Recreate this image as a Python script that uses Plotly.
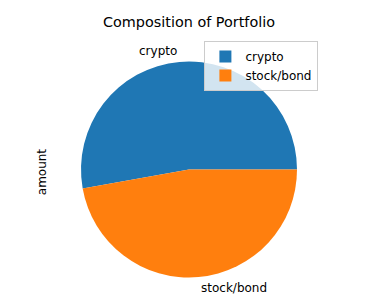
import math
import plotly.graph_objects as go

labels = ["crypto", "stock/bond"]
amounts = [52.8, 47.2]
colors = ["#1f77b4", "#ff7f0e"]
title_text = "Composition of Portfolio"
ylabel_text = "amount"

W, H = 380, 308
ml, mr, mt, mb = 80.5, 82.5, 61, 30

total = sum(amounts)
# matplotlib draws wedges counterclockwise from 3 o'clock; plotly always puts
# the first slice clockwise of `rotation`, so start where crypto ends.
rot = 90 - 360 * amounts[0] / total

fig = go.Figure(go.Pie(
    labels=labels, values=amounts, sort=False,
    direction="counterclockwise", rotation=rot,
    marker=dict(colors=colors, line=dict(width=0)),
    textinfo="none", hoverinfo="label+value",
    domain=dict(x=[0, 1], y=[0, 1]),
))

# wedge labels at 1.1 * radius at each wedge's mid angle (matplotlib style)
start = 0.0
for lab, v in zip(labels, amounts):
    mid = math.radians((start + v / total / 2) * 360)
    start += v / total
    cx = 0.5 + 0.55 * math.cos(mid)
    cy = 0.5 + 0.55 * math.sin(mid)
    fig.add_annotation(
        x=cx, y=cy, xref="paper", yref="paper", text=lab, showarrow=False,
        xanchor="left" if math.cos(mid) > 0 else "right", yanchor="middle",
        font=dict(size=12, color="#000000"),
    )

fig.add_annotation(
    x=-0.18, y=0.488, xref="paper", yref="paper", text=ylabel_text,
    textangle=-90, showarrow=False, xanchor="center", yanchor="middle",
    font=dict(size=12, color="#000000"),
)

fig.update_layout(
    width=W, height=H,
    margin=dict(l=ml, r=mr, t=mt, b=mb, pad=0),
    paper_bgcolor="white", plot_bgcolor="white",
    font=dict(family="DejaVu Sans", size=12, color="#000000"),
    title=dict(text=title_text, x=0.5, xref="paper", xanchor="center",
               y=1 - 22 / H, yref="container", yanchor="middle",
               font=dict(size=14.4, color="#000000")),
    showlegend=True,
    legend=dict(
        x=(319 - ml) / (W - ml - mr), xanchor="right",
        y=(H - mb - 41) / (H - mt - mb), yanchor="top",
        bgcolor="rgba(255,255,255,0.8)", bordercolor="#cccccc", borderwidth=1,
        font=dict(size=12, color="#000000"), traceorder="normal",
        itemwidth=30,
    ),
)

fig.write_html("out.html")
